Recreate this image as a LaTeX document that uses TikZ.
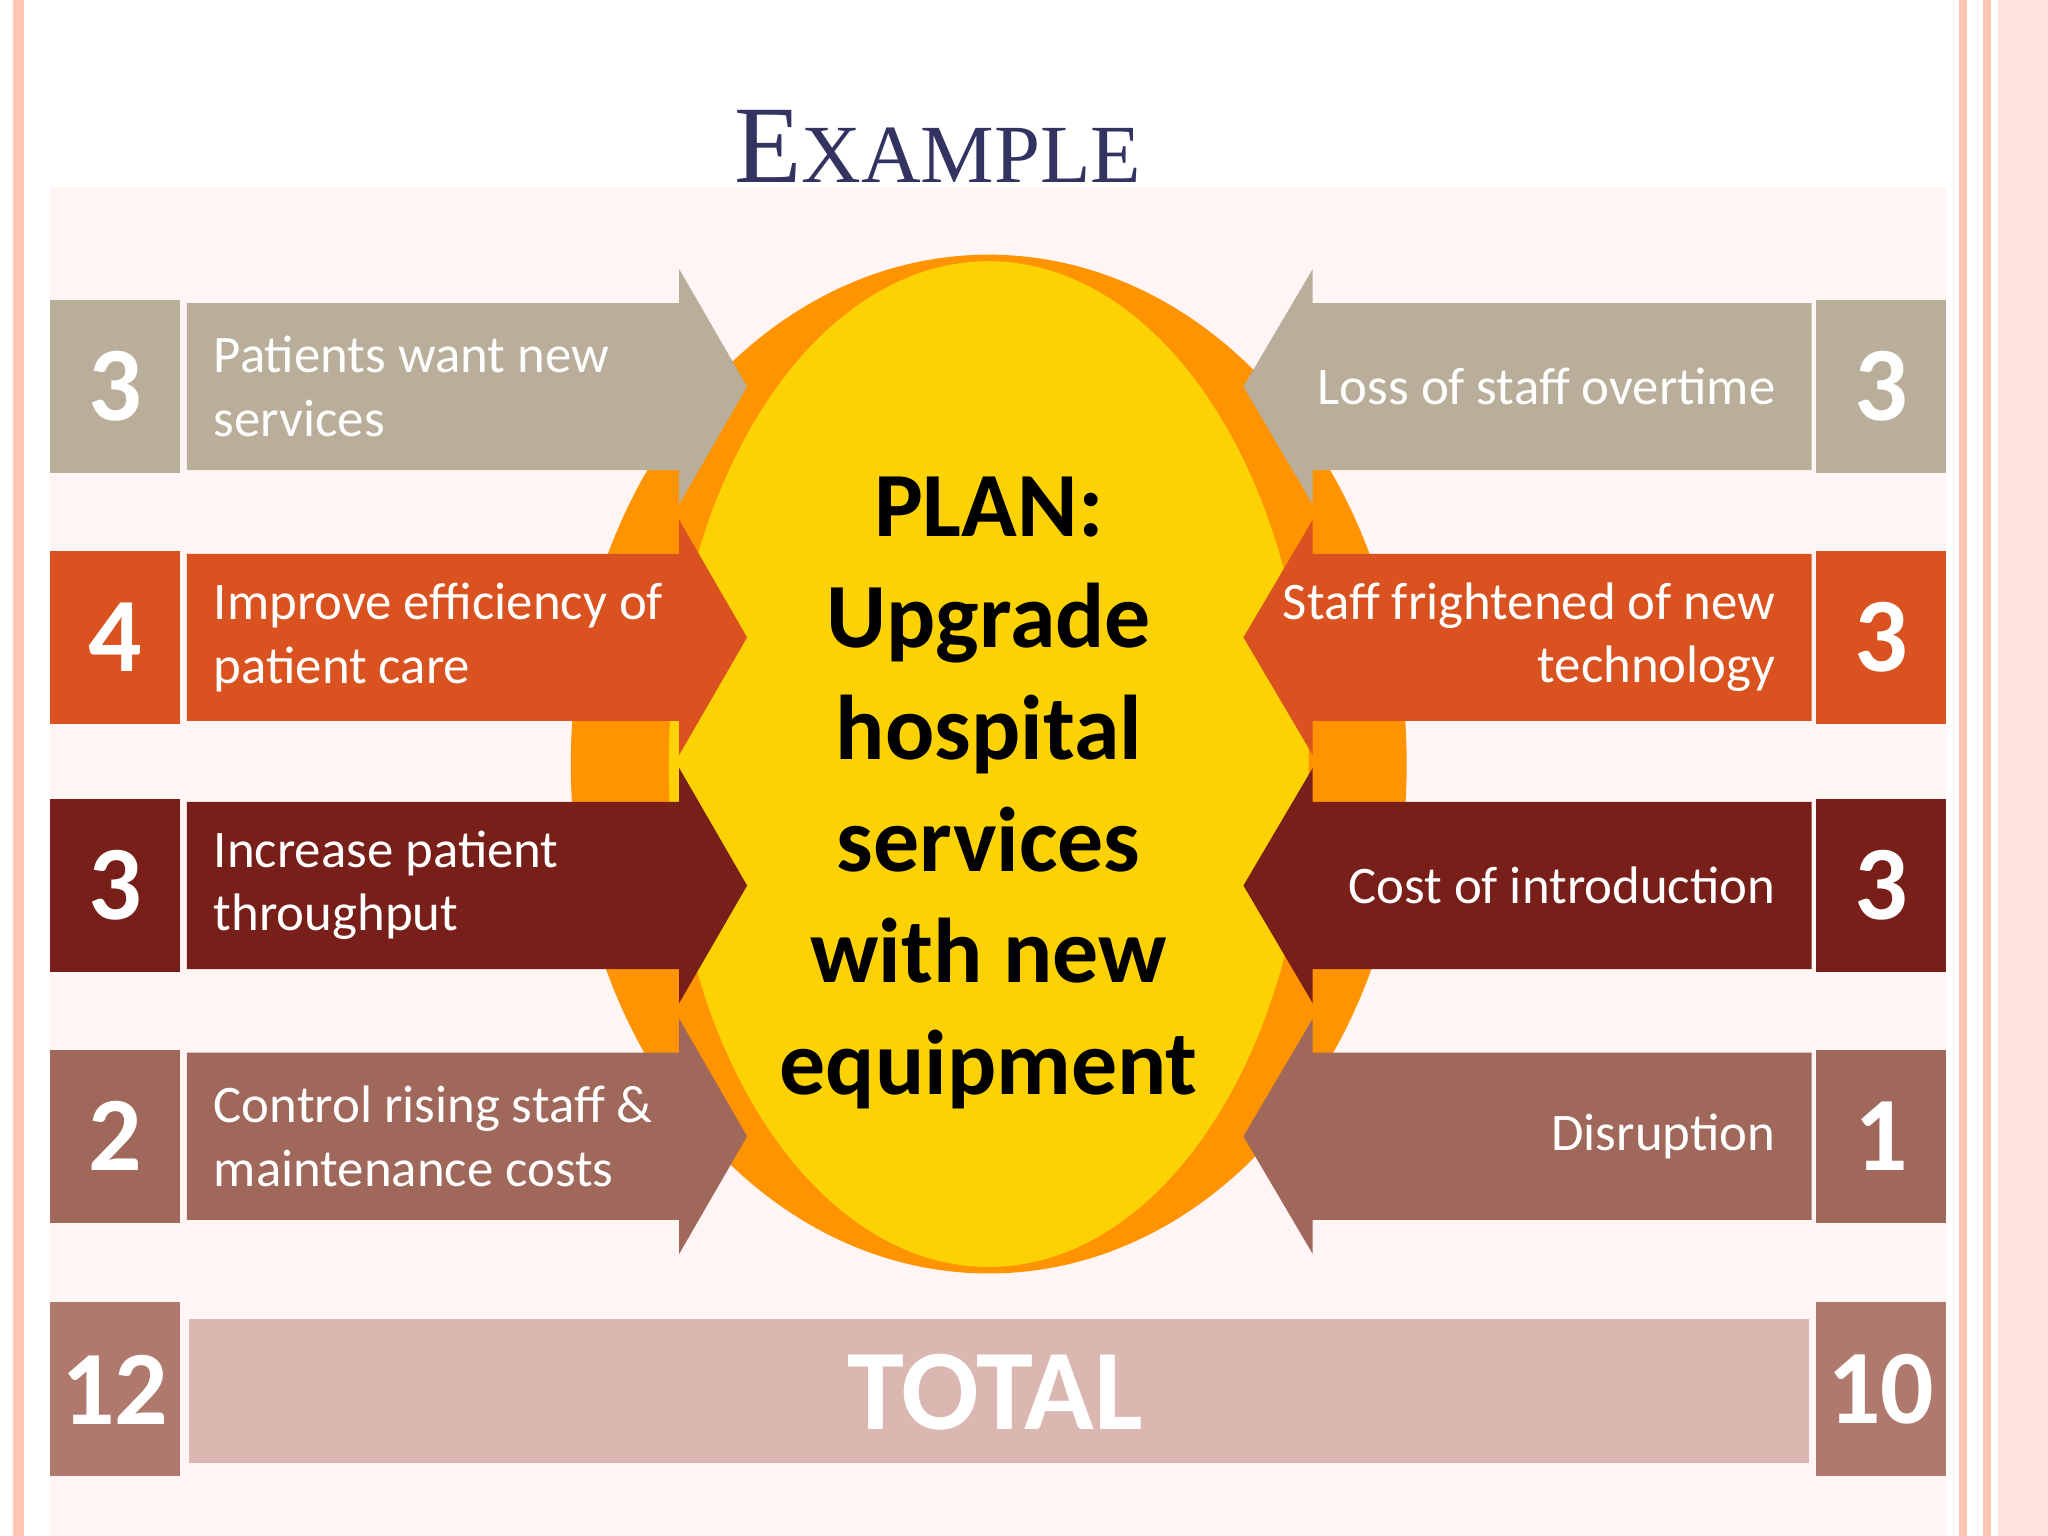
\documentclass[tikz,border=0pt]{standalone}
\usepackage{fontspec}
\setmainfont{Carlito}
\newfontfamily\titlefont{Liberation Serif}
\begin{document}
\begin{tikzpicture}[x=0.01cm,y=-0.01cm,
  num/.style={text=white,font=\fontsize{23}{26}\selectfont\bfseries},
  lab/.style={text=white,font=\fontsize{11.5}{13.8}\selectfont,inner sep=0},
  plan/.style={font=\fontsize{20}{24.3}\selectfont\bfseries,align=center}]
\useasboundingbox (0,0) rectangle (1568,1176);
\fill[white] (0,0) rectangle (1568,1176);
% slide borders
\fill[orange!25!pink!70!white] (10,0) rectangle (18,1176);
\fill[orange!25!pink!70!white] (1500,0) rectangle (1506,1176);
\fill[orange!25!pink!70!white] (1518,0) rectangle (1524,1176);
\fill[orange!10!pink!40!white] (1530,0) rectangle (1568,1176);
\node[font=\titlefont\fontsize{24}{26}\selectfont,text=black!70!blue!60!gray] (title) at (718,112) {E{\fontsize{18}{20}\selectfont XAMPLE}};
% panel
\fill[red!4!white] (38,143) rectangle (1490,1176);
% circle
\fill[orange!85!yellow] (757,585) ellipse [x radius=320,y radius=390];
\fill[yellow!70!orange] (757,585) ellipse [x radius=245,y radius=385];
\node[plan] (center) at (757,607) {PLAN:\\Upgrade\\hospital\\services\\with new\\equipment};
% left rows
\newcommand\lrow[5]{%
  \fill[#2] (38,#1-66) rectangle (138,#1+66);
  \node[num] (ln#5) at (88,#1) {#3};
  \fill[#2] (143,#1-64) -- (520,#1-64) -- (520,#1-90) -- (572,#1) -- (520,#1+90) -- (520,#1+64) -- (143,#1+64) -- cycle;
  \node[lab,anchor=west,align=left] (lt#5) at (163,#1) {#4};}
\newcommand\rrow[5]{%
  \fill[#2] (1390,#1-66) rectangle (1490,#1+66);
  \node[num] (rn#5) at (1440,#1) {#3};
  \fill[#2] (1387,#1-64) -- (1005,#1-64) -- (1005,#1-90) -- (952,#1) -- (1005,#1+90) -- (1005,#1+64) -- (1387,#1+64) -- cycle;
  \node[lab,anchor=east,align=right] (rt#5) at (1360,#1) {#4};}
\definecolor{c1}{HTML}{B9AE99}
\definecolor{c2}{HTML}{D9521F}
\definecolor{c3}{HTML}{771F18}
\definecolor{c4}{HTML}{A0675B}
\lrow{296}{c1}{3}{Patients want new\\services}{a}
\lrow{488}{c2}{4}{Improve efficiency of\\patient care}{b}
\lrow{678}{c3}{3}{Increase patient\\throughput}{c}
\lrow{870}{c4}{2}{Control rising staff \&\\maintenance costs}{d}
\rrow{296}{c1}{3}{Loss of staff overtime}{a}
\rrow{488}{c2}{3}{Staff frightened of new\\technology}{b}
\rrow{678}{c3}{3}{Cost of introduction}{c}
\rrow{870}{c4}{1}{Disruption}{d}
% total
\definecolor{ct}{HTML}{B0796E}
\definecolor{cb}{HTML}{DAB8B1}
\fill[ct] (38,997) rectangle (138,1130);
\fill[ct] (1390,997) rectangle (1490,1130);
\fill[cb] (145,1010) rectangle (1385,1120);
\node[num] (tl) at (88,1064) {12};
\node[num] (tr) at (1440,1064) {10};
\node[num,font=\fontsize{25}{28}\selectfont\bfseries] (total) at (762,1066) {TOTAL};
\end{tikzpicture}
\end{document}
